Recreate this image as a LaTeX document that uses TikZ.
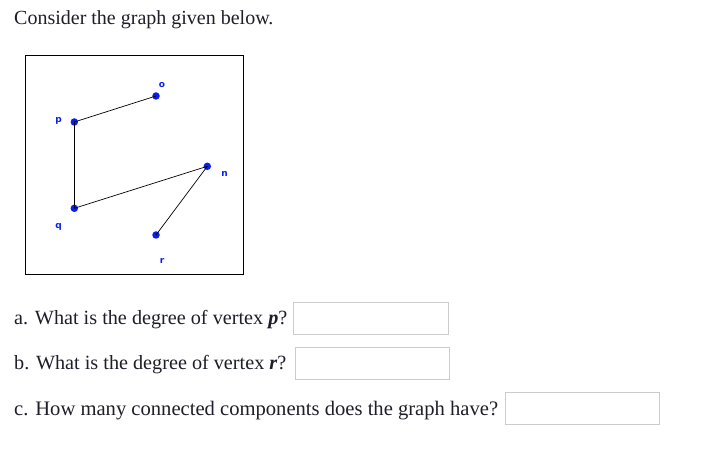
\documentclass[tikz,border=0pt]{standalone}
\usepackage{fontspec}
\setmainfont{Liberation Serif}
\newfontfamily\lblfont{DejaVu Sans}
\definecolor{txt}{HTML}{1E1E28}
\definecolor{boxgray}{HTML}{CCCCCC}
\definecolor{vblue}{HTML}{0A1EF0}
\begin{document}
\begin{tikzpicture}[x=1pt,y=-1pt,
  vtx/.style={circle,fill=vblue,inner sep=0pt,minimum size=7.5pt},
  vlbl/.style={text=vblue,font=\lblfont\bfseries\fontsize{9}{10}\selectfont,inner sep=0pt},
  edge/.style={draw=black,line width=0.7pt},
  q/.style={anchor=base west,text=txt,inner sep=0pt,font=\fontsize{20.2}{23}\selectfont},
  ansbox/.style={draw=boxgray,line width=1pt,fill=white}]
\useasboundingbox (0,0) rectangle (716,468);
\node[q,font=\fontsize{20}{23}\selectfont] (title) at (14,25) {Consider the graph given below.};
\draw[line width=1pt] (25,56) rectangle (243,275);
\node[vtx] (o) at (156,96) {};
\node[vtx] (p) at (74.3,122) {};
\node[vtx] (n) at (207.3,166.3) {};
\node[vtx] (qq) at (74.3,208.3) {};
\node[vtx] (r) at (156,235) {};
\node[vlbl] (lo) at (162,85) {o};
\node[vlbl] (lp) at (58.7,121) {p};
\node[vlbl] (ln) at (224.7,174) {n};
\node[vlbl] (lq) at (58.7,226.7) {q};
\node[vlbl] (lr) at (162,260.7) {r};
\draw[edge] (p.center) -- (o.center);
\draw[edge] (p.center) -- (qq.center);
\draw[edge] (qq.center) -- (n.center);
\draw[edge] (n.center) -- (r.center);
\node[q] (qa) at (14,324) {a. What is the degree of vertex \textbf{\textit{p}}?};
\node[q] (qb) at (14,370) {b. What is the degree of vertex \textbf{\textit{r}}?};
\node[q,font=\fontsize{20.6}{23}\selectfont] (qc) at (14,415) {c. How many connected components does the graph have?};
\draw[ansbox] (293.5,302.5) rectangle (448.5,334.5);
\draw[ansbox] (295.5,347.5) rectangle (449.5,379.5);
\draw[ansbox] (505.5,392.5) rectangle (659.5,424.5);
\end{tikzpicture}
\end{document}
